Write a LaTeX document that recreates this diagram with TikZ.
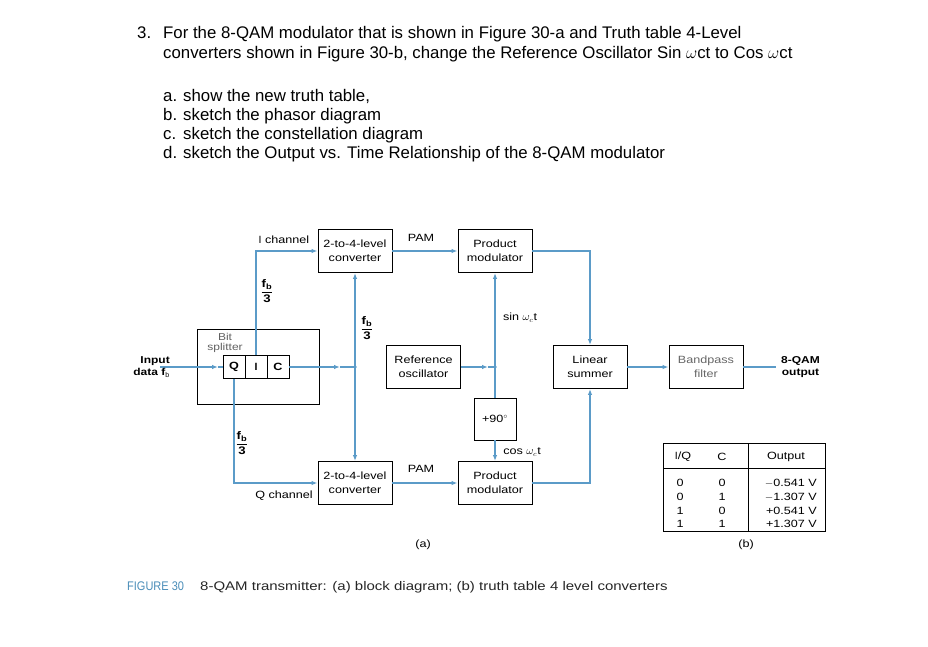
\documentclass[tikz,border=0pt]{standalone}
\usepackage{amsmath}
\usepackage{fontspec}
\setmainfont{Liberation Sans}
\newfontfamily\diafont[FakeStretch=1.2]{Liberation Sans}
\newfontfamily\capfont[FakeStretch=1.2]{Liberation Sans}
\newfontfamily\figfont[FakeStretch=0.88]{Liberation Sans}
\usetikzlibrary{arrows.meta}
\definecolor{wire}{HTML}{5B9BC8}
\definecolor{figblue}{HTML}{4A8DB8}
\begin{document}
\begin{tikzpicture}[x=1pt,y=-1pt,
 blk/.style={draw=black,line width=0.9pt,minimum width=74pt,minimum height=43pt,align=center,font=\diafont\fontsize{10.5}{14}\selectfont,inner sep=1pt},
 cell/.style={draw=black,line width=0.9pt,minimum width=22pt,minimum height=23pt,inner sep=0pt,font=\diafont\fontsize{10.5}{12}\selectfont\bfseries},
 wire/.style={draw=wire,line width=1.3pt},
 arr/.style={wire,-{Latex[length=6pt,width=4.5pt]}},
 dot/.style={circle,fill=wire,inner sep=0pt,minimum size=3.5pt},
 lbl/.style={font=\diafont\fontsize{10.5}{13}\selectfont,inner sep=1pt},
 frac/.style={font=\diafont\fontsize{11}{12}\selectfont\bfseries,inner sep=1pt},
 qtext/.style={anchor=base west,font=\fontsize{16.8}{19}\selectfont,inner sep=0pt}
]
\useasboundingbox (0,0) rectangle (928,647);
% question text
\node[qtext] (q3) at (137,39) {3.};
\node[qtext] (ql1) at (163,39) {For the 8-QAM modulator that is shown in Figure 30-a and Truth table 4-Level};
\node[qtext] (ql2) at (163,59) {converters shown in Figure 30-b, change the Reference Oscillator Sin $\omega$ct to Cos $\omega$ct};
\node[qtext] (qa) at (163,102) {a.};
\node[qtext] (qat) at (183,102) {show the new truth table,};
\node[qtext] (qb) at (163,121) {b.};
\node[qtext] (qbt) at (183,121) {sketch the phasor diagram};
\node[qtext] (qc) at (163,140) {c.};
\node[qtext] (qct) at (183,140) {sketch the constellation diagram};
\node[qtext] (qd) at (163,159) {d.};
\node[qtext] (qdt) at (183,159) {sketch the Output vs. Time Relationship of the 8-QAM modulator};

% blocks
\node[blk] (conv1) at (355,251) {2-to-4-level\\converter};
\node[blk] (conv2) at (355,483) {2-to-4-level\\converter};
\node[blk] (pm1) at (495,251) {Product\\modulator};
\node[blk] (pm2) at (495,483) {Product\\modulator};
\node[blk] (osc) at (423.5,367) {Reference\\oscillator};
\node[blk] (sum) at (590,367) {Linear\\summer};
\node[blk,text=gray!80!black] (bpf) at (706,367) {Bandpass\\filter};
\node[blk,minimum width=42pt,minimum height=42pt] (ninety) at (495,419) {+90$^\circ$};

% bit splitter
\draw[line width=0.9pt] (197,329) rectangle (319,404);
\node[lbl,text=gray!75!black,align=center,font=\diafont\fontsize{10}{10}\selectfont] (bs) at (225,343) {Bit\\splitter};
\node[cell] (cQ) at (234,367) {Q};
\node[cell] (cI) at (256,367) {\rmfamily I};
\node[cell] (cC) at (278,367) {C};

% connectors
\coordinate (in) at (160,367);
\coordinate (inm) at (218,367);
\draw[arr] (in) -- (inm);
\draw[wire] (inm) -- (cQ.west);
\node[lbl,font=\diafont\fontsize{10}{12}\selectfont\bfseries,align=right,anchor=east] (inlbl) at (171,367) {Input\\data f$_\mathrm{b}$};
\draw[arr] (cI.north) |- (conv1.west);
\coordinate (j1) at (355,367);
\coordinate (j1m) at (340,367);
\draw[arr] (cC.east) -- (j1m);
\draw[wire] (j1m) -- (j1);
\draw[arr] (j1) -- (conv1.south);
\draw[arr] (j1) -- (conv2.north);
\draw[arr] (cQ.south) |- (conv2.west);
\draw[arr] (conv1.east) -- (pm1.west);
\draw[arr] (conv2.east) -- (pm2.west);
\coordinate (j2) at (495,367);
\coordinate (j2m) at (488,367);
\draw[arr] (osc.east) -- (j2m);
\draw[wire] (j2m) -- (j2);
\draw[arr] (j2) -- (pm1.south);
\draw[wire] (j2) -- (ninety.north);
\draw[arr] (ninety.south) -- (pm2.north);
\draw[arr] (pm1.east) -| (sum.north);
\draw[arr] (pm2.east) -| (sum.south);
\draw[arr] (sum.east) -- (bpf.west);
\coordinate (outc) at (776,367);
\draw[wire] (bpf.east) -- (outc);
\node[lbl,font=\diafont\fontsize{10}{12}\selectfont\bfseries,align=center,anchor=west] (outlbl) at (780,367) {8-QAM\\output};
\node[dot] (d1) at (j1) {};
\node[dot] (d2) at (j2) {};

% labels
\node[lbl] (ich) at (284,240) {{\rmfamily I} channel};
\node[lbl] (qch) at (284,496) {Q channel};
\node[lbl] (pam1) at (421,238) {PAM};
\node[lbl] (pam2) at (421,469) {PAM};
\node[frac] (fb1) at (267,291) {$\dfrac{\text{f}_\text{b}}{\text{3}}$};
\node[frac] (fb2) at (367,328) {$\dfrac{\text{f}_\text{b}}{\text{3}}$};
\node[frac] (fb3) at (242,443) {$\dfrac{\text{f}_\text{b}}{\text{3}}$};
\node[lbl] (sinl) at (520,318) {sin $\omega_c$t};
\node[lbl] (cosl) at (522,452) {cos $\omega_c$t};
\node[lbl] (la) at (423,545) {(a)};

% truth table
\draw[line width=0.9pt] (663,443) rectangle (825,531);
\draw[line width=0.9pt] (663,468) -- (825,468);
\draw[line width=0.9pt] (748,443) -- (748,531);
\begin{scope}[every node/.style={lbl}]
\node (h1) at (683,457) {{\rmfamily I}/Q};
\node (h2) at (722,457) {C};
\node (h3) at (786,457) {Output};
\node (r11) at (680,483) {0}; \node (r12) at (722,483) {0}; \node[anchor=east] (r13) at (818,483) {$-$0.541 V};
\node (r21) at (680,497) {0}; \node (r22) at (722,497) {1}; \node[anchor=east] (r23) at (818,497) {$-$1.307 V};
\node (r31) at (680,511) {1}; \node (r32) at (722,511) {0}; \node[anchor=east] (r33) at (818,511) {+0.541 V};
\node (r41) at (680,524) {1}; \node (r42) at (722,524) {1}; \node[anchor=east] (r43) at (818,524) {+1.307 V};
\end{scope}
\node[lbl] (lb) at (746,545) {(b)};

% caption
\node[anchor=base west,inner sep=0pt,font=\figfont\fontsize{12.5}{14}\selectfont,text=figblue] (fig) at (127,590) {FIGURE 30};
\node[anchor=base west,inner sep=0pt,font=\capfont\fontsize{12.5}{14}\selectfont,text=black!85] (cap) at (200,590) {8-QAM transmitter: (a) block diagram; (b) truth table 4 level converters};
\end{tikzpicture}
\end{document}
